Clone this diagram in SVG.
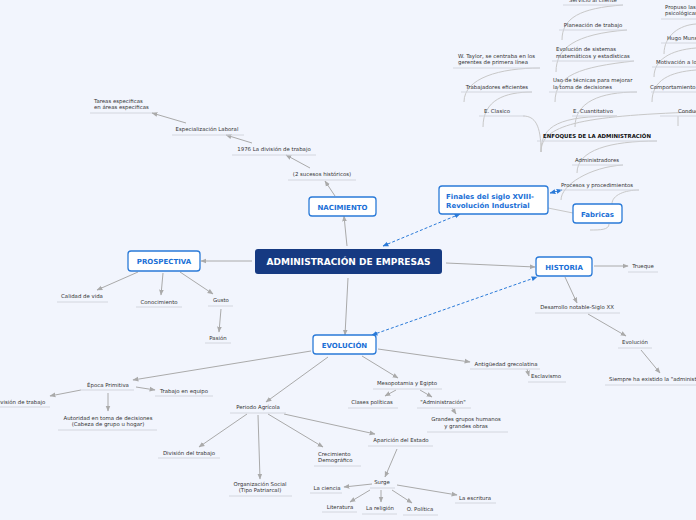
<svg xmlns="http://www.w3.org/2000/svg" width="696" height="520" viewBox="0 0 696 520">
<defs>
<marker id="a" viewBox="0 0 10 10" refX="9" refY="5" markerWidth="6" markerHeight="6" orient="auto"><path d="M0,1 L10,5 L0,9 z" fill="#aaaaaa"/></marker>
<marker id="b" viewBox="0 0 10 10" refX="9" refY="5" markerWidth="6" markerHeight="6" orient="auto-start-reverse"><path d="M0,1 L10,5 L0,9 z" fill="#2a7ad8"/></marker>
</defs>
<style>
.t{font-family:"DejaVu Sans",Verdana,sans-serif;font-size:5.4px;fill:#333}
.m{text-anchor:middle}
.u{stroke:#d3d6de;stroke-width:1}
.n{fill:#fff;stroke:#2a7ad8;stroke-width:1.3}
.nt{font-family:"DejaVu Sans",Verdana,sans-serif;font-size:7px;font-weight:bold;fill:#1a6fd6;text-anchor:middle}
.c{stroke:#aaa;stroke-width:1;fill:none;marker-end:url(#a)}
.cv{stroke:#c8c8c8;stroke-width:1;fill:none}
.d{stroke:#2a7ad8;stroke-width:1;stroke-dasharray:3,2;fill:none;marker-end:url(#b);marker-start:url(#b)}
</style>
<rect width="696" height="520" fill="#f2f5fd"/>
<g id="connectors">
<path class="c" d="M252,261 L201,261"/><path class="c" d="M347,246 L344,216"/><path class="c" d="M348,278 L345,335"/><path class="c" d="M446,263 L535,267"/>
<path class="d" d="M383,246 L460,214"/><path class="d" d="M372,335 L537,277"/><path class="d" d="M550,193 L562,190"/>
<path class="cv" d="M548,208 L573,213"/>
<path class="c" d="M335,196 L325,181"/><path class="c" d="M310,168 L286,155"/><path class="c" d="M252,143 L226,135"/><path class="c" d="M186,123 L152,113"/>
<path class="c" d="M138,272 L97,290"/><path class="c" d="M163,273 L161,295"/><path class="c" d="M180,272 L213,294"/><path class="c" d="M221,309 L219,332"/>
<path class="c" d="M594,266 L628,266"/><path class="c" d="M565,277 L577,303"/><path class="c" d="M588,314 L626,336"/><path class="c" d="M641,350 L660,373"/>
<path class="c" d="M378,349 L470,362"/><path class="c" d="M527,369 L529,376"/>
<path class="c" d="M311,351 L133,380"/><path class="c" d="M136,387 L155,390"/><path class="c" d="M81,390 L50,396"/><path class="c" d="M108,393 L108,411"/>
<path class="c" d="M328,357 L266,402"/><path class="c" d="M247,414 L199,447"/><path class="c" d="M258,415 L260,479"/><path class="c" d="M268,414 L323,447"/><path class="c" d="M284,414 L375,434"/>
<path class="c" d="M397,449 L385,477"/><path class="c" d="M372,484 L344,487"/><path class="c" d="M370,490 L350,502"/><path class="c" d="M381,490 L381,502"/><path class="c" d="M392,490 L412,503"/><path class="c" d="M397,485 L457,495"/>
<path class="c" d="M362,356 L398,378"/><path class="c" d="M396,390 L385,396"/><path class="c" d="M420,390 L432,397"/><path class="c" d="M452,408 L456,414"/>
<path class="cv" d="M541,152 C541,125 535,116 523,116"/>
<path class="cv" d="M541,152 C541,125 560,116 617,116"/>
<path class="cv" d="M541,152 C541,125 580,116 696,112"/>
<path class="cv" d="M483,127 C483,100 505,92 532,92"/>
<path class="cv" d="M464,102 C464,78 500,68 540,68"/>
<path class="cv" d="M575,127 C575,102 600,92 637,92"/>
<path class="cv" d="M555,102 C555,75 580,67 634,61"/>
<path class="cv" d="M556,72 C556,48 575,34 627,30"/>
<path class="cv" d="M562,40 C562,18 580,8 623,5"/>
<path class="cv" d="M678,126 L678,116"/>
<path class="cv" d="M652,102 C652,80 670,72 696,70"/>
<path class="cv" d="M654,77 C654,60 670,50 696,48"/>
<path class="cv" d="M664,54 C664,35 680,25 696,24"/>
<path class="cv" d="M577,173 C577,150 610,141 657,141"/>
<path class="cv" d="M561,200 C561,185 590,167 623,165"/>
<path class="cv" d="M612,204 C612,195 625,190 639,190"/>
<path class="cv" d="M609,224 C609,230 600,230 590,230"/>
</g>
<g id="central"><rect x="255" y="249" width="187" height="25" rx="3" fill="#163a82"/><text x="348.5" y="265" font-family="DejaVu Sans,Verdana,sans-serif" font-size="9" font-weight="bold" fill="#fff" text-anchor="middle">ADMINISTRACIÓN DE EMPRESAS</text></g>
<g id="nacimiento"><rect class="n" x="309" y="197" width="67" height="19" rx="3"/><text class="nt" x="342.5" y="209.5">NACIMIENTO</text></g>
<g id="prospectiva"><rect class="n" x="128" y="251" width="72" height="20" rx="3"/><text class="nt" x="164" y="264">PROSPECTIVA</text></g>
<g id="historia"><rect class="n" x="536" y="257" width="56" height="19" rx="3"/><text class="nt" x="564" y="269.5">HISTORIA</text></g>
<g id="evolucion"><rect class="n" x="313" y="335" width="63" height="19" rx="3"/><text class="nt" x="344.5" y="347.5">EVOLUCIÓN</text></g>
<g id="finales"><rect class="n" x="439" y="186" width="109" height="28" rx="3"/><text class="nt" style="text-anchor:start" x="446" y="199">Finales del siglo XVIII-</text><text class="nt" style="text-anchor:start" x="446" y="208">Revolución Industrial</text></g>
<g id="fabricas"><rect class="n" x="573" y="204" width="49" height="19" rx="3"/><text class="nt" x="597.5" y="216.5">Fabricas</text></g>
<g id="labels">
<text class="t" x="94" y="103">Tareas especificas</text><text class="t" x="94" y="109">en áreas especificas</text><line class="u" x1="90" y1="113" x2="152" y2="113"/>
<text class="t m" x="207" y="131">Especialización Laboral</text><line class="u" x1="172" y1="135" x2="244" y2="135"/>
<text class="t m" x="274" y="151">1976 La división de trabajo</text><line class="u" x1="232" y1="155" x2="316" y2="155"/>
<text class="t m" x="322" y="176">(2 sucesos históricos)</text><line class="u" x1="288" y1="180" x2="356" y2="180"/>
<text class="t m" x="82" y="298">Calidad de vida</text><line class="u" x1="57" y1="302" x2="108" y2="302"/>
<text class="t m" x="159" y="304">Conocimiento</text><line class="u" x1="136" y1="307" x2="182" y2="307"/>
<text class="t m" x="221" y="302">Gusto</text><line class="u" x1="208" y1="306" x2="233" y2="306"/>
<text class="t m" x="218" y="340">Pasión</text><line class="u" x1="205" y1="343" x2="231" y2="343"/>
<text class="t m" x="643" y="268">Trueque</text><line class="u" x1="628" y1="272" x2="658" y2="272"/>
<text class="t m" x="577" y="309">Desarrollo notable-Siglo XX</text><line class="u" x1="535" y1="313" x2="620" y2="313"/>
<text class="t m" x="635" y="344">Evolución</text><line class="u" x1="618" y1="348" x2="652" y2="348"/>
<text class="t" x="609" y="381">Siempre ha existido la "administración"</text><line class="u" x1="605" y1="385" x2="696" y2="385"/>
<text class="t m" x="506" y="366">Antigüedad grecolatina</text><line class="u" x1="470" y1="369" x2="540" y2="369"/>
<text class="t m" x="546" y="378">Esclavismo</text><line class="u" x1="528" y1="382" x2="566" y2="382"/>
<text class="t m" x="108" y="387">Época Primitiva</text><line class="u" x1="80" y1="390" x2="134" y2="390"/>
<text class="t m" x="184" y="393">Trabajo en equipo</text><line class="u" x1="155" y1="396" x2="213" y2="396"/>
<text class="t m" x="20" y="404">División de trabajo</text><line class="u" x1="0" y1="407" x2="50" y2="407"/>
<text class="t m" x="108" y="420">Autoridad en toma de decisiones</text><text class="t m" x="108" y="426">(Cabeza de grupo u hogar)</text><line class="u" x1="58" y1="430" x2="157" y2="430"/>
<text class="t m" x="258" y="409">Periodo Agrícola</text><line class="u" x1="230" y1="413" x2="286" y2="413"/>
<text class="t m" x="189" y="455">División del trabajo</text><line class="u" x1="158" y1="458" x2="220" y2="458"/>
<text class="t m" x="260" y="486">Organización Social</text><text class="t m" x="260" y="492">(Tipo Patriarcal)</text><line class="u" x1="229" y1="496" x2="292" y2="496"/>
<text class="t" x="318" y="456">Crecimiento</text><text class="t" x="318" y="462">Demográfico</text><line class="u" x1="314" y1="466" x2="361" y2="466"/>
<text class="t m" x="401" y="442">Aparición del Estado</text><line class="u" x1="368" y1="446" x2="433" y2="446"/>
<text class="t m" x="382" y="484">Surge</text><line class="u" x1="370" y1="488" x2="395" y2="488"/>
<text class="t m" x="327" y="490">La ciencia</text><line class="u" x1="310" y1="493" x2="342" y2="493"/>
<text class="t m" x="340" y="509">Literatura</text><line class="u" x1="322" y1="512" x2="357" y2="512"/>
<text class="t m" x="380" y="510">La religión</text><line class="u" x1="362" y1="514" x2="397" y2="514"/>
<text class="t m" x="420" y="511">O. Política</text><line class="u" x1="403" y1="515" x2="438" y2="515"/>
<text class="t m" x="475" y="500">La escritura</text><line class="u" x1="455" y1="503" x2="496" y2="503"/>
<text class="t m" x="407" y="385">Mesopotamia y Egipto</text><line class="u" x1="373" y1="389" x2="442" y2="389"/>
<text class="t m" x="372" y="404">Clases políticas</text><line class="u" x1="348" y1="408" x2="398" y2="408"/>
<text class="t m" x="443" y="404">"Administración"</text><line class="u" x1="417" y1="408" x2="471" y2="408"/>
<text class="t m" x="466" y="421">Grandes grupos humanos</text><text class="t m" x="466" y="428">y grandes obras</text><line class="u" x1="427" y1="432" x2="508" y2="432"/>
<text class="t m" x="597" y="138" style="font-weight:bold;fill:#111">ENFOQUES DE LA ADMINISTRACIÓN</text><line class="u" x1="537" y1="141" x2="657" y2="141"/>
<text class="t m" x="497" y="113">E. Clasico</text><line class="u" x1="479" y1="116" x2="525" y2="116"/>
<text class="t m" x="593" y="113">E. Cuantitativo</text><line class="u" x1="572" y1="116" x2="617" y2="116"/>
<text class="t" x="678" y="113">Conducta</text><line class="u" x1="660" y1="116" x2="696" y2="116"/>
<text class="t m" x="497" y="89">Trabajadores eficientes</text><line class="u" x1="461" y1="92" x2="532" y2="92"/>
<text class="t" x="458" y="58">W. Taylor, se centraba en los</text><text class="t" x="458" y="64">gerentes de primera línea</text><line class="u" x1="453" y1="68" x2="540" y2="68"/>
<text class="t" x="553" y="82">Uso de técnicas para mejorar</text><text class="t" x="553" y="89">la toma de decisiones</text><line class="u" x1="549" y1="92" x2="637" y2="92"/>
<text class="t" x="556" y="51">Evolución de sistemas</text><text class="t" x="556" y="58">matemáticos y estadísticas</text><line class="u" x1="552" y1="61" x2="634" y2="61"/>
<text class="t m" x="593" y="27">Planeación de trabajo</text><line class="u" x1="559" y1="30" x2="627" y2="30"/>
<text class="t m" x="593" y="2">Servicio al cliente</text><line class="u" x1="563" y1="5" x2="623" y2="5"/>
<text class="t" x="650" y="89">Comportamiento</text><line class="u" x1="651" y1="92" x2="696" y2="92"/>
<text class="t" x="656" y="64">Motivación a los</text><line class="u" x1="652" y1="67" x2="696" y2="67"/>
<text class="t" x="667" y="40">Hugo Munsterberg</text><line class="u" x1="661" y1="43" x2="696" y2="43"/>
<text class="t" x="665" y="9">Propuso las</text><text class="t" x="665" y="15">psicológicas</text><line class="u" x1="661" y1="19" x2="696" y2="19"/>
<text class="t m" x="597" y="162">Administradores</text><line class="u" x1="572" y1="165" x2="623" y2="165"/>
<text class="t m" x="597" y="187">Procesos y procedimientos</text><line class="u" x1="560" y1="190" x2="639" y2="190"/>
</g>
</svg>
